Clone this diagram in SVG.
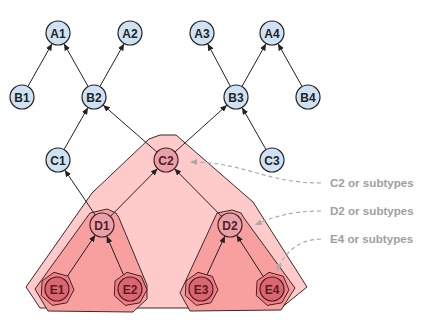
<svg xmlns="http://www.w3.org/2000/svg" xmlns:xlink="http://www.w3.org/1999/xlink" width="428" height="323" viewBox="0 0 428 323">
<style>
.region{stroke:#3a2a2a;stroke-width:1;stroke-linejoin:round}
.outer{fill:#ffcaca}
.mid{fill:#f89f9f}
.hept{fill:#ee7f86;stroke:#4a1f22;stroke-width:1}
.blue{fill:#cfe2f3;stroke:#222;stroke-width:1.2}
.pink{fill:#e6a2aa;stroke:#4a1f22;stroke-width:1.2}
.red{fill:#dc6670;stroke:#4a1f22;stroke-width:1.2}
.lbl{font-family:"Liberation Sans",Arial,sans-serif;font-weight:bold;font-size:12px;fill:#222;text-anchor:middle}
.lblr{fill:#5a1a1f}
.edge{stroke:#222;stroke-width:1;fill:none;marker-end:url(#arr)}
.note{stroke:#aaa;stroke-width:1.2;stroke-dasharray:4,3;fill:none;marker-end:url(#garr)}
.ntext{font-family:"Liberation Sans",Arial,sans-serif;font-weight:bold;font-size:11.6px;fill:#a0a0a0}
</style>
<defs>
<marker id="arr" markerUnits="userSpaceOnUse" markerWidth="7" markerHeight="6" refX="7" refY="3" orient="auto"><path d="M0,0 L7,3 L0,6 z" fill="#222"/></marker>
<marker id="garr" markerUnits="userSpaceOnUse" markerWidth="7" markerHeight="6" refX="7" refY="3" orient="auto"><path d="M0,0 L7,3 L0,6 z" fill="#aaa"/></marker>
<polygon id="hep" points="-3,-16.7 11.3,-12.7 17,0.8 9.9,13.8 -4.6,16.4 -15.7,6.6 -14.9,-8.1"/>
</defs>
<g id="regions">
<polygon id="region-C2" class="region outer" points="26,287 92,193 149,139 160,135 176,135 253,202 307,287 281,308 40,308"/>
<polygon id="region-D1" class="region mid" points="35,289 90,213 107,209 116,213 119,218 147,285 147,299 133,312 48,311"/>
<polygon id="region-D2" class="region mid" points="180,293 217,213 232,210 241,213 244,218 295,288 281,310 190,311"/>
</g>
<g id="connectors">
<line class="edge" x1="27.9" y1="86.5" x2="52.1" y2="43.5"/>
<line class="edge" x1="88.1" y1="86.5" x2="63.9" y2="43.5"/>
<line class="edge" x1="99.9" y1="86.5" x2="124.1" y2="43.5"/>
<line class="edge" x1="230.4" y1="86.4" x2="207.6" y2="43.6"/>
<line class="edge" x1="241.9" y1="86.5" x2="266.1" y2="43.5"/>
<line class="edge" x1="302.1" y1="86.5" x2="277.9" y2="43.5"/>
<line class="edge" x1="64" y1="149.6" x2="88" y2="107.4"/>
<line class="edge" x1="157" y1="152.1" x2="103" y2="104.9"/>
<line class="edge" x1="174.9" y1="152" x2="227.1" y2="105"/>
<line class="edge" x1="266" y1="149.6" x2="242" y2="107.4"/>
<line class="edge" x1="95.3" y1="215.1" x2="64.7" y2="169.9"/>
<line class="edge" x1="110.4" y1="216.4" x2="157.6" y2="168.6"/>
<line class="edge" x1="221.6" y1="216.4" x2="174.4" y2="168.6"/>
<line class="edge" x1="67" y1="276.8" x2="95.3" y2="234.9"/>
<line class="edge" x1="123.7" y1="275.3" x2="106.7" y2="236"/>
<line class="edge" x1="206.7" y1="275.5" x2="225" y2="235.9"/>
<line class="edge" x1="263.3" y1="276.6" x2="236.5" y2="235.1"/>
<path class="note" d="M321,183 C265,183 245,162 190,162"/>
<path class="note" d="M321,211 C292,211 272,217 255,225"/>
<path class="note" d="M321,239 C296,240 284,254 277,271"/>
</g>
<g id="A1"><circle class="blue" cx="58" cy="33" r="12"/><text class="lbl" x="58" y="37.5">A1</text></g>
<g id="A2"><circle class="blue" cx="130" cy="33" r="12"/><text class="lbl" x="130" y="37.5">A2</text></g>
<g id="A3"><circle class="blue" cx="202" cy="33" r="12"/><text class="lbl" x="202" y="37.5">A3</text></g>
<g id="A4"><circle class="blue" cx="272" cy="33" r="12"/><text class="lbl" x="272" y="37.5">A4</text></g>
<g id="B1"><circle class="blue" cx="22" cy="97" r="12"/><text class="lbl" x="22" y="101.5">B1</text></g>
<g id="B2"><circle class="blue" cx="94" cy="97" r="12"/><text class="lbl" x="94" y="101.5">B2</text></g>
<g id="B3"><circle class="blue" cx="236" cy="97" r="12"/><text class="lbl" x="236" y="101.5">B3</text></g>
<g id="B4"><circle class="blue" cx="308" cy="97" r="12"/><text class="lbl" x="308" y="101.5">B4</text></g>
<g id="C1"><circle class="blue" cx="58" cy="160" r="12"/><text class="lbl" x="58" y="164.5">C1</text></g>
<g id="C2"><circle class="pink" cx="166" cy="160" r="12"/><text class="lbl lblr" x="166" y="164.5">C2</text></g>
<g id="C3"><circle class="blue" cx="272" cy="160" r="12"/><text class="lbl" x="272" y="164.5">C3</text></g>
<g id="D1"><circle class="pink" cx="102" cy="225" r="12"/><text class="lbl lblr" x="102" y="229.5">D1</text></g>
<g id="D2"><circle class="pink" cx="230" cy="225" r="12"/><text class="lbl lblr" x="230" y="229.5">D2</text></g>
<g id="E1"><use xlink:href="#hep" class="hept" x="57" y="289"/><circle class="red" cx="57" cy="289" r="12"/><text class="lbl lblr" x="57" y="293.5">E1</text></g>
<g id="E2"><use xlink:href="#hep" class="hept" x="130" y="289"/><circle class="red" cx="130" cy="289" r="12"/><text class="lbl lblr" x="130" y="293.5">E2</text></g>
<g id="E3"><use xlink:href="#hep" class="hept" x="201" y="289"/><circle class="red" cx="201" cy="289" r="12"/><text class="lbl lblr" x="201" y="293.5">E3</text></g>
<g id="E4"><use xlink:href="#hep" class="hept" x="272" y="289"/><circle class="red" cx="272" cy="289" r="12"/><text class="lbl lblr" x="272" y="293.5">E4</text></g>
<g id="notes">
<text class="ntext" x="330" y="187">C2 or subtypes</text>
<text class="ntext" x="330" y="215">D2 or subtypes</text>
<text class="ntext" x="330" y="243">E4 or subtypes</text>
</g>
</svg>
